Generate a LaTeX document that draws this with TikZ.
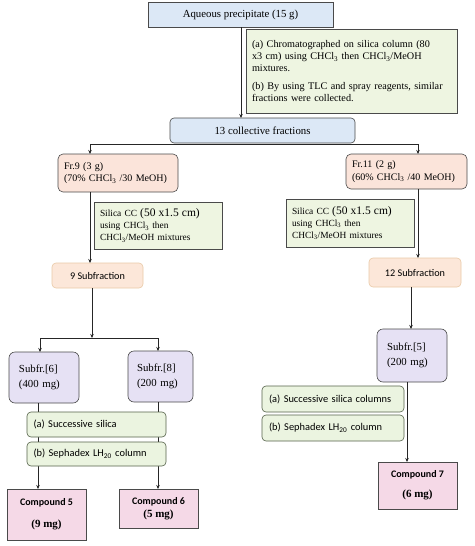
\documentclass[tikz,border=0pt]{standalone}
\usepackage{fontspec}
\setmainfont{Liberation Serif}
\newfontfamily\calfont{Carlito}
\usetikzlibrary{arrows.meta}

\definecolor{boxblue}{HTML}{DCE8F6}
\definecolor{notegreen}{HTML}{EEF5E1}
\definecolor{frpeach}{HTML}{FBE4DA}
\definecolor{subpeach}{HTML}{FCE7D9}
\definecolor{subedge}{HTML}{E9C9A6}
\definecolor{lav}{HTML}{E6E1F4}
\definecolor{stepgreen}{HTML}{EBF4E0}
\definecolor{stepedge}{HTML}{55624A}
\definecolor{cmpink}{HTML}{F5D9E7}
\definecolor{edge}{HTML}{4A4A4A}

\newcommand{\chl}{CHCl\textsubscript{3}}

\begin{document}
\begin{tikzpicture}[x=1pt,y=-1pt,
    every node/.style={inner sep=0pt, outer sep=0pt},
    arr/.style={-{Stealth[length=4pt,width=3.5pt]}, line width=0.6pt, black!85},
    topbox/.style={draw=edge, fill=boxblue, line width=0.6pt, font=\fontsize{10.8}{12}\selectfont},
    notebox/.style={draw=edge, fill=notegreen, line width=0.6pt, align=left, font=\fontsize{10.2}{11.8}\selectfont},
    frbox/.style={draw=edge, fill=frpeach, rounded corners=5pt, line width=0.6pt, align=left, font=\fontsize{10}{12.8}\selectfont},
    subbox/.style={draw=subedge, fill=subpeach, rounded corners=4pt, line width=0.6pt, font=\calfont\fontsize{10.2}{11}\selectfont},
    lavbox/.style={draw=edge, fill=lav, rounded corners=6pt, line width=0.6pt, align=left, font=\fontsize{10.8}{14.5}\selectfont},
    stepbox/.style={draw=stepedge, fill=stepgreen, rounded corners=4pt, line width=0.6pt, font=\calfont\fontsize{10.4}{11}\selectfont},
    cmpbox/.style={draw=edge, fill=cmpink, line width=0.6pt, align=center, font=\calfont\bfseries\fontsize{10}{11}\selectfont}]

    \useasboundingbox (0,0) rectangle (474,546);

    % x positions of the vertical lines
    \coordinate (xa) at (241,0);
    \coordinate (x9) at (90,0);
    \coordinate (x9b) at (92,338);
    \coordinate (x6t) at (40,0);
    \coordinate (x6) at (38,0);
    \coordinate (x8) at (158,0);
    \coordinate (x11) at (418,0);
    \coordinate (x12) at (411,0);
    \coordinate (x5) at (407,0);
    \coordinate (ycmp) at (0,489);

    % top part
    \node[topbox, minimum width=185pt, minimum height=25pt] (aq) at (240.5,14.5) {Aqueous precipitate (15 g)};
    \node[notebox, minimum width=211pt, minimum height=84pt, text width=199pt] (note) at (351.5,71)
        {(a) Chromatographed on silica column (80\\x3 cm) using \chl{} then \chl/MeOH\\mixtures.\\[6pt]
         (b) By using TLC and spray reagents, similar\\fractions were collected.};
    \node[topbox, rounded corners=4pt, minimum width=185pt, minimum height=25pt] (coll) at (262.5,130.5) {13 collective fractions};

    % left branch
    \node[frbox, minimum width=120pt, minimum height=38pt, text width=108pt] (fr9) at (118,173)
        {Fr.9 (3 g)\\(70\%~\chl{}~/30~MeOH)};
    \node[notebox, minimum width=128pt, minimum height=47pt, text width=116pt,
          font=\fontsize{9.4}{12}\selectfont] (cc9) at (158,225.5)
        {Silica CC {\fontsize{11.5}{12}\selectfont(50 x1.5 cm)}\\using \chl{} then\\\chl/MeOH mixtures};
    \node[subbox, minimum width=91pt, minimum height=25pt] (sub9) at (97.5,275.5) {9 Subfraction};

    \node[lavbox, minimum width=70pt, minimum height=51pt, text width=50pt] (s6) at (44,377.5) {Subfr.[6]\\(400 mg)};
    \node[lavbox, minimum width=65pt, minimum height=51pt, text width=47pt] (s8) at (160.5,376.5) {Subfr.[8]\\(200 mg)};

    \draw[arr] (x6 |- s6.south) -- (x6 |- ycmp);
    \draw[arr] (x8 |- s8.south) -- (x8 |- ycmp);

    \node[stepbox, minimum width=139pt, minimum height=25pt, text width=126pt] (pa9) at (96.5,424.5) {(a) Successive silica};
    \node[stepbox, minimum width=139pt, minimum height=24pt, text width=126pt] (pb9) at (96.5,454) {(b) Sephadex LH\textsubscript{20} column};

    \node[cmpbox, minimum width=79pt, minimum height=51pt] (c5) at (46.5,514.5)
        {Compound 5\\[11pt]{\rmfamily\fontsize{11}{12}\selectfont (9 mg)}};
    \node[cmpbox, minimum width=79pt, minimum height=39pt] (c6) at (158.5,508.5)
        {Compound 6\\[2pt]{\rmfamily\fontsize{11}{12}\selectfont (5 mg)}};

    % right branch
    \node[frbox, minimum width=121pt, minimum height=35pt, text width=109pt] (fr11) at (406.5,171.5)
        {Fr.11 (2 g)\\(60\%~\chl{}~/40~MeOH)};
    \node[notebox, minimum width=128pt, minimum height=48pt, text width=116pt,
          font=\fontsize{9.4}{12}\selectfont] (cc11) at (350,223)
        {Silica CC {\fontsize{11.5}{12}\selectfont(50 x1.5 cm)}\\using \chl{} then\\\chl/MeOH mixtures};
    \node[subbox, minimum width=92pt, minimum height=29pt] (sub12) at (415,272.5) {12 Subfraction};
    \node[lavbox, minimum width=70pt, minimum height=53pt, text width=50pt] (s5) at (412,355.5) {Subfr.[5]\\(200 mg)};

    \node[stepbox, minimum width=142pt, minimum height=26pt, text width=128pt] (pa5) at (333,399) {(a) Successive silica columns};
    \node[stepbox, minimum width=142pt, minimum height=26pt, text width=128pt] (pb5) at (333,428) {(b) Sephadex LH\textsubscript{20} column};

    \node[cmpbox, minimum width=79pt, minimum height=47pt] (c7) at (417.5,485.5)
        {Compound 7\\[9pt]{\rmfamily\fontsize{11}{12}\selectfont (6 mg)}};

    % connectors
    \draw[arr] (xa |- aq.south) -- (xa |- coll.north);
    \draw[arr] (coll.south) ++(0,1.5) -| (x9 |- fr9.north);
    \draw[arr] (coll.south) ++(0,1.5) -| (x11 |- fr11.north);
    \draw[arr] (x9 |- fr9.south) -- (x9 |- sub9.north);
    \draw[arr] (x9b |- sub9.south) -- (x9b);
    \draw[arr] (x9b) -| (x6t |- s6.north);
    \draw[arr] (x9b) -| (x8 |- s8.north);
    \draw[arr] (x11 |- fr11.south) -- (x11 |- sub12.north);
    \draw[arr] (x12 |- sub12.south) -- (x12 |- s5.north);
    \draw[arr] (x5 |- s5.south) -- (x5 |- c7.north);
\end{tikzpicture}
\end{document}
